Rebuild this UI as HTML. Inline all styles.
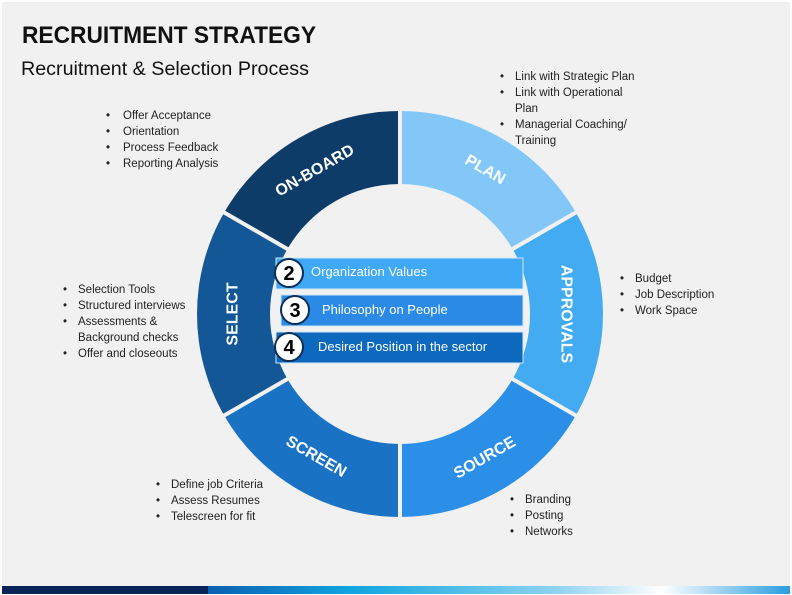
<!DOCTYPE html>
<html><head><meta charset="utf-8"><style>
html,body{margin:0;padding:0;background:#fff;}
svg{display:block;}
text{font-family:"Liberation Sans",sans-serif;}
</style></head><body>
<svg width="792" height="595" viewBox="0 0 792 595" xmlns="http://www.w3.org/2000/svg">
<defs>
<linearGradient id="bg" x1="0" x2="1" y1="0" y2="0">
<stop offset="0" stop-color="#0a5fb0"/>
<stop offset="0.25" stop-color="#12a6e0"/>
<stop offset="0.6" stop-color="#8fd3f0"/>
<stop offset="0.78" stop-color="#ffffff"/>
<stop offset="1" stop-color="#2a9ee0"/>
</linearGradient>
</defs>
<rect x="2" y="2" width="788" height="591" fill="#f1f1f1"/>
<text x="22" y="43" font-size="24" font-weight="bold" fill="#111" textLength="294" lengthAdjust="spacingAndGlyphs">RECRUITMENT STRATEGY</text>
<text x="21" y="75" font-size="19" fill="#111" textLength="288" lengthAdjust="spacingAndGlyphs">Recruitment &amp; Selection Process</text>

<!-- ring -->
<path d="M400,111 A203,203 0 0 1 575.8,212.5 L512.6,249 A130,130 0 0 0 400,184 Z" fill="#82c7f8"/>
<path d="M575.8,212.5 A203,203 0 0 1 575.8,415.5 L512.6,379 A130,130 0 0 0 512.6,249 Z" fill="#42abf2"/>
<path d="M575.8,415.5 A203,203 0 0 1 400,517 L400,444 A130,130 0 0 0 512.6,379 Z" fill="#2b8fe8"/>
<path d="M400,517 A203,203 0 0 1 224.2,415.5 L287.4,379 A130,130 0 0 0 400,444 Z" fill="#1a72c4"/>
<path d="M224.2,415.5 A203,203 0 0 1 224.2,212.5 L287.4,249 A130,130 0 0 0 287.4,379 Z" fill="#135797"/>
<path d="M224.2,212.5 A203,203 0 0 1 400,111 L400,184 A130,130 0 0 0 287.4,249 Z" fill="#0d3c68"/>
<g stroke="#f1f1f1" stroke-width="4">
<line x1="400" y1="108" x2="400" y2="187"/>
<line x1="400" y1="441" x2="400" y2="520"/>
<line x1="578.4" y1="211" x2="510" y2="250.5"/>
<line x1="578.4" y1="417" x2="510" y2="377.5"/>
<line x1="221.6" y1="211" x2="290" y2="250.5"/>
<line x1="221.6" y1="417" x2="290" y2="377.5"/>
</g>
<g fill="#fff" font-size="16" font-weight="bold" text-anchor="middle" dominant-baseline="central">
<text transform="translate(485,170) rotate(30)">PLAN</text>
<text transform="translate(566,314) rotate(90)">APPROVALS</text>
<text transform="translate(485,458) rotate(-30)">SOURCE</text>
<text transform="translate(316,457) rotate(30)">SCREEN</text>
<text transform="translate(233,314) rotate(-90)">SELECT</text>
<text transform="translate(315,171) rotate(-30)">ON-BOARD</text>
</g>

<!-- bars -->
<rect x="276" y="258" width="247" height="31" fill="#3fa9f5" stroke="#cfe6f7" stroke-width="1"/>
<rect x="281" y="295" width="242" height="31" fill="#2a8ae6" stroke="#cfe6f7" stroke-width="1"/>
<rect x="276" y="332" width="247" height="31" fill="#0c69be" stroke="#cfe6f7" stroke-width="1"/>
<g fill="#fff" stroke="#0b2f55" stroke-width="2">
<circle cx="289" cy="273" r="14"/>
<circle cx="295" cy="310" r="14"/>
<circle cx="289" cy="347" r="14"/>
</g>
<g font-size="20" font-weight="bold" fill="#000" text-anchor="middle">
<text x="289" y="280">2</text>
<text x="295" y="317">3</text>
<text x="289" y="354">4</text>
</g>
<g font-size="13" fill="#fff">
<text x="311" y="276">Organization Values</text>
<text x="322" y="314">Philosophy on People</text>
<text x="318" y="351">Desired Position in the sector</text>
</g>

<!-- bullet lists -->
<g font-size="11.5" fill="#222">
<g><text x="106" y="119">•</text><text x="123" y="119">Offer Acceptance</text>
<text x="106" y="135">•</text><text x="123" y="135">Orientation</text>
<text x="106" y="151">•</text><text x="123" y="151">Process Feedback</text>
<text x="106" y="167">•</text><text x="123" y="167">Reporting Analysis</text></g>

<g><text x="500" y="80">•</text><text x="515" y="80">Link with Strategic Plan</text>
<text x="500" y="96">•</text><text x="515" y="96">Link with Operational</text>
<text x="515" y="112">Plan</text>
<text x="500" y="128">•</text><text x="515" y="128">Managerial Coaching/</text>
<text x="515" y="144">Training</text></g>

<g><text x="620" y="282">•</text><text x="635" y="282">Budget</text>
<text x="620" y="298">•</text><text x="635" y="298">Job Description</text>
<text x="620" y="314">•</text><text x="635" y="314">Work Space</text></g>

<g><text x="63" y="293">•</text><text x="78" y="293">Selection Tools</text>
<text x="63" y="309">•</text><text x="78" y="309">Structured interviews</text>
<text x="63" y="325">•</text><text x="78" y="325">Assessments &amp;</text>
<text x="78" y="341">Background checks</text>
<text x="63" y="357">•</text><text x="78" y="357">Offer and closeouts</text></g>

<g><text x="156" y="488">•</text><text x="171" y="488">Define job Criteria</text>
<text x="156" y="504">•</text><text x="171" y="504">Assess Resumes</text>
<text x="156" y="520">•</text><text x="171" y="520">Telescreen for fit</text></g>

<g><text x="510" y="503">•</text><text x="525" y="503">Branding</text>
<text x="510" y="519">•</text><text x="525" y="519">Posting</text>
<text x="510" y="535">•</text><text x="525" y="535">Networks</text></g>
</g>

<!-- bottom band -->
<rect x="2" y="586" width="206" height="8" fill="#0a2458"/>
<rect x="208" y="586" width="582" height="8" fill="url(#bg)"/>
</svg>
</body></html>
